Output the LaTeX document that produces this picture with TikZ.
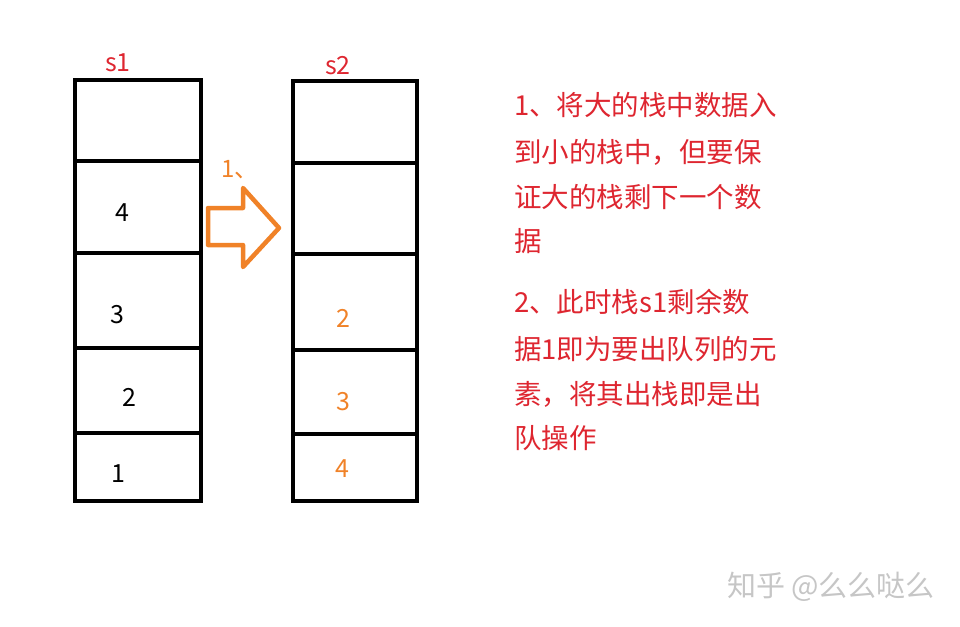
\documentclass[tikz,border=0pt]{standalone}
\usepackage{fontspec}
\setmainfont{Noto Sans CJK SC}
\usepackage{xcolor}
\definecolor{notered}{RGB}{222,38,48}
\definecolor{pushorange}{RGB}{240,130,40}
\definecolor{markgray}{RGB}{198,198,198}

\tikzset{
    stackline/.style = {line width=4.5pt, line cap=rect},
    numtxt/.style = {inner sep=0pt, font=\fontsize{25}{25}\selectfont},
    notetxt/.style = {anchor=base west, inner sep=0pt, text=notered,
        font=\fontsize{27.5}{27.5}\selectfont}
}

\begin{document}
\begin{tikzpicture}[x=1pt,y=-1pt]
        \useasboundingbox (0,0) rectangle (960,626);

        % stack s1
        \draw[stackline] (75,80) rectangle (201,501);
        \foreach \yy in {161,253,348,433}
            \draw[stackline] (75,\yy) -- (201,\yy);
        \node[numtxt, text=notered] (s1) at (118,63) {s1};
        \node[numtxt] (a4) at (122,213) {4};
        \node[numtxt] (a3) at (117,315) {3};
        \node[numtxt] (a2) at (129,397) {2};
        \node[numtxt] (a1) at (118,474) {1};

        % stack s2
        \draw[stackline] (293,81) rectangle (417,501);
        \foreach \yy in {163,254,350,434}
            \draw[stackline] (293,\yy) -- (417,\yy);
        \node[numtxt, text=notered] (s2) at (338,66) {s2};
        \node[numtxt, text=pushorange] (b2) at (343,318) {2};
        \node[numtxt, text=pushorange] (b3) at (343,402) {3};
        \node[numtxt, text=pushorange] (b4) at (342,469) {4};

        % hollow arrow
        \draw[pushorange, line width=4.5pt, line join=round]
            (208,208) -- (243,208) -- (243,188) -- (279,228)
            -- (243,267) -- (243,245) -- (208,245) -- cycle;
        \node[numtxt, text=pushorange, font=\fontsize{24}{24}\selectfont]
            (step1) at (240,170) {1、};

        % notes
        \node[notetxt] (t1) at (514,115) {1、将大的栈中数据入};
        \node[notetxt] (t2) at (514,162) {到小的栈中，但要保};
        \node[notetxt] (t3) at (514,207) {证大的栈剩下一个数};
        \node[notetxt] (t4) at (514,251) {据};
        \node[notetxt] (t5) at (514,312) {2、此时栈s1剩余数};
        \node[notetxt] (t6) at (514,359) {据1即为要出队列的元};
        \node[notetxt] (t7) at (514,404) {素，将其出栈即是出};
        \node[notetxt] (t8) at (514,448) {队操作};

        % watermark
        \node[inner sep=0pt, text=markgray, font=\fontsize{29}{29}\selectfont]
            (mark) at (831,587) {知乎 @么么哒么};
    \end{tikzpicture}
\end{document}
